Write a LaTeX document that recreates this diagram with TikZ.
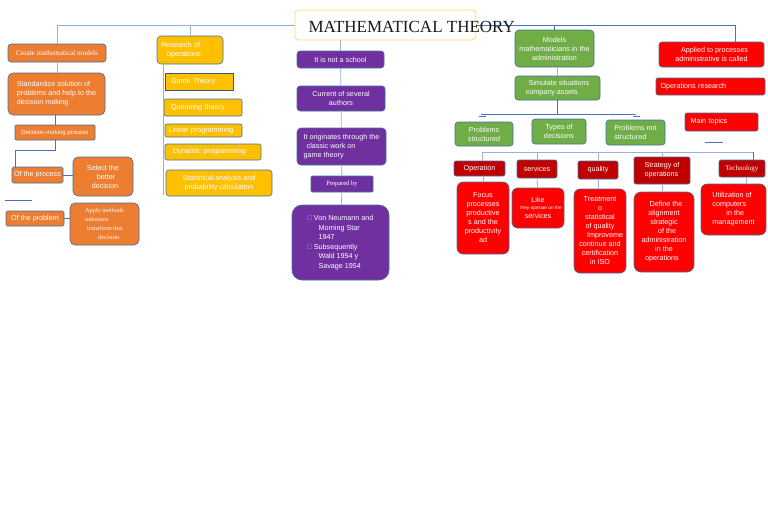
\documentclass[tikz,border=0pt]{standalone}
\usepackage{fontspec}
\setmainfont{Liberation Serif}
\newfontfamily\boxfont{Liberation Sans}
\definecolor{myorange}{RGB}{237,125,49}
\definecolor{myyellow}{RGB}{255,192,0}
\definecolor{mypurple}{RGB}{112,48,160}
\definecolor{mygreen}{RGB}{112,173,71}
\definecolor{myred}{RGB}{255,0,0}
\definecolor{mydarkred}{RGB}{192,0,0}
\definecolor{myborder}{RGB}{65,113,156}
\definecolor{mygold}{RGB}{255,217,102}
\definecolor{mylink}{RGB}{150,178,224}
\definecolor{mylinkdark}{RGB}{68,114,196}
\tikzset{
  card/.style={rectangle, draw=myborder, line width=0.6pt, text=white,
    align=center, inner sep=1pt, rounded corners=3pt,
    font=\boxfont\fontsize{7.2}{9}\selectfont},
  boxsize/.style 2 args={minimum width=#1, minimum height=#2},
  orangecard/.style={card, fill=myorange},
  yellowcard/.style={card, fill=myyellow},
  purplecard/.style={card, fill=mypurple},
  greencard/.style={card, fill=mygreen},
  redcard/.style={card, fill=myred},
  darkcard/.style={card, fill=mydarkred},
  link/.style={draw=mylink, line width=0.8pt},
  darklink/.style={draw=mylinkdark, line width=0.8pt}
}
\begin{document}
\begin{tikzpicture}[x=1pt, y=-1pt]
  \useasboundingbox[fill=white] (0,0) rectangle (768,525);
  % title
  \node[draw=mygold, line width=0.8pt, fill=white, rounded corners=4pt, boxsize={181pt}{30pt}] (title) at (385.5,25) {};
  % left column
  \node[orangecard, boxsize={98pt}{18pt}, font=\fontsize{7.2}{8}\selectfont] (models) at (57,53) {Create mathematical models};
  \node[orangecard, boxsize={97pt}{42pt}, rounded corners=5pt, align=left] (standard) at (56.5,94) {Standardize solution of\\problems and help to the\\decision making};
  \node[orangecard, boxsize={80pt}{15pt}, rounded corners=1pt, font=\boxfont\fontsize{6}{7}\selectfont] (decision) at (55,132.5) {Decision-making process};
  \node[orangecard, boxsize={51pt}{16pt}, rounded corners=1.5pt] (process) at (37.5,175) {Of the process};
  \node[orangecard, boxsize={60pt}{39pt}, rounded corners=5pt] (select) at (103,176.5) {Select the\\\hspace{6pt}better\\\hspace{4pt}decision};
  \node[orangecard, boxsize={58pt}{15pt}, rounded corners=1.5pt] (problem) at (35,218.5) {Of the problem};
  \node[orangecard, boxsize={69pt}{42pt}, rounded corners=5pt, align=left, font=\fontsize{6.3}{9}\selectfont] (apply) at (104.5,224) {Apply methods\\unknown\\\hspace{2pt}transform that\\\hspace{13pt}decision};
  % research column
  \node[yellowcard, boxsize={66pt}{28pt}, rounded corners=4pt, text width=58pt, align=left] (research) at (190,50) {Research of\\\hspace{6pt}operations};
  \node[yellowcard, boxsize={68pt}{17pt}, rounded corners=0pt, draw=myborder!80!black, text width=56pt, align=left] (game) at (199,81.5) {Game Theory};
  \node[yellowcard, boxsize={78pt}{17pt}, rounded corners=2pt, text width=64pt, align=left] (queue) at (203,107.5) {Queueing theory};
  \node[yellowcard, boxsize={77pt}{13pt}, rounded corners=2pt, text width=70pt, align=left] (linear) at (203.5,130.5) {Linear programming};
  \node[yellowcard, boxsize={96pt}{16pt}, rounded corners=2pt, text width=80pt, align=left] (dynamic) at (213,152) {Dynamic programming};
  \node[yellowcard, boxsize={106pt}{26pt}, rounded corners=3pt] (statistic) at (219,183) {Statistical analysis and\\probability calculation};
  % middle column
  \node[purplecard, boxsize={87pt}{17pt}] (school) at (340.5,59.5) {It is not a school};
  \node[purplecard, boxsize={88pt}{25pt}] (authors) at (341,98.5) {Current of several\\authors};
  \node[purplecard, boxsize={89pt}{37pt}, rounded corners=4pt, align=left] (origin) at (341.5,146.5) {It originates through the\\\hspace{3pt}classic work on\\game theory};
  \node[purplecard, boxsize={62pt}{16pt}, rounded corners=1pt, font=\fontsize{6.5}{7}\selectfont] (prepared) at (342,184) {Prepared by};
  \node[purplecard, boxsize={97pt}{75pt}, rounded corners=10pt, align=left, font=\boxfont\fontsize{7.2}{9.5}\selectfont] (names) at (340.5,242.5)
    {\textcolor{white!55!mypurple}{□} Von Neumann and\\\hspace{11pt}Morning Star\\\hspace{11pt}1947\\\textcolor{white!55!mypurple}{□} Subsequently\\\hspace{11pt}Wald 1954 y\\\hspace{11pt}Savage 1954};
  % green group
  \node[greencard, boxsize={79pt}{37pt}, rounded corners=4pt] (admin) at (554.5,48.5) {Models\\mathematicians in the\\administration};
  \node[greencard, boxsize={85pt}{24pt}, rounded corners=3pt, align=left] (simulate) at (557.5,88) {\hspace{3pt}Simulate situations\\company assets};
  \node[greencard, boxsize={58pt}{24pt}, rounded corners=3pt] (structured) at (484,134) {Problems\\structured};
  \node[greencard, boxsize={54pt}{25pt}, rounded corners=3pt] (types) at (559,131.5) {Types of\\decisions};
  \node[greencard, boxsize={59pt}{25pt}, rounded corners=3pt, align=left] (unstructured) at (635.5,132.5) {Problems not\\structured};
  % red group
  \node[redcard, boxsize={105pt}{25pt}, rounded corners=3pt] (applied) at (711.5,54.5) {\hspace{6pt}Applied to processes\\administrative is called};
  \node[redcard, boxsize={109pt}{17pt}, rounded corners=2pt, text width=100pt, align=left] (opres) at (710.5,86.5) {Operations research};
  \node[redcard, boxsize={73pt}{18pt}, rounded corners=2pt, text width=62pt, align=left] (topics) at (721.5,122) {Main topics};
  % topics
  \node[darkcard, boxsize={51pt}{15pt}, rounded corners=2pt] (operation) at (479.5,168.5) {Operation};
  \node[darkcard, boxsize={40pt}{18pt}, rounded corners=2pt] (services) at (537,169) {services};
  \node[darkcard, boxsize={40pt}{18pt}, rounded corners=2pt] (quality) at (598,170) {quality};
  \node[darkcard, boxsize={56pt}{27pt}, rounded corners=2pt, align=left] (strategy) at (662,170.5) {Strategy of\\operations};
  \node[darkcard, boxsize={46pt}{17pt}, rounded corners=2pt, font=\fontsize{7}{8}\selectfont] (technology) at (742,168.5) {Technology};
  \node[redcard, boxsize={52pt}{72pt}, rounded corners=6pt] (focus) at (483,218) {Focus\\processes\\productive\\s and the\\productivity\\ad};
  \node[redcard, boxsize={52pt}{40pt}, rounded corners=5pt] (like) at (538,208) {Like\\[-2pt]\hspace{6pt}{\fontsize{4.8}{5.5}\selectfont they operate on the}\\services};
  \node[redcard, boxsize={52pt}{84pt}, rounded corners=6pt] (treatment) at (600,231) {Treatment\\o\\statistical\\of quality\\\hspace{10pt}Improveme\\continue and\\certification\\in ISO};
  \node[redcard, boxsize={60pt}{80pt}, rounded corners=7pt] (define) at (664,232) {\hspace{4pt}Define the\\alignment\\strategic\hspace{8pt}\\\hspace{6pt}of the\\administration\\in the\\\hspace{-4pt}operations};
  \node[redcard, boxsize={65pt}{51pt}, rounded corners=6pt, align=left] (computers) at (733.5,209.5) {Utilization of\\computers\\\hspace{14pt}in the\\management};
  % connectors
  \draw[link] (title.west) -| (models.north);
  \draw[link] (title.west -| research.north) -- (research.north);
  \draw[darklink] (title.east) -| ([xshift=24pt]applied.north);
  \draw[darklink] (admin.north |- title.east) -- (admin.north);
  \draw[link] (school.north |- title.south) -- (school.north);
  \draw[link] (models.south) -- (models.south |- standard.north);
  \draw[darklink] (decision.north |- standard.south) -- (decision.north);
  \draw[darklink] (decision.south) -- ++(0,10) -| ([xshift=-22pt]process.north);
  \draw[darklink] (process.east) -- (process.east -| select.west);
  \draw[darklink] (problem.east) -- (problem.east -| apply.west);
  \coordinate (orphan) at (5,200);
  \draw[darklink] (orphan) -- ++(27,0);
  \coordinate (researchend) at (163,195);
  \draw[link] (researchend |- research.south) -- (researchend);
  \draw[link] (school) -- (authors);
  \draw[link] (authors) -- (origin);
  \draw[link] (origin) -- (prepared);
  \draw[link] (prepared) -- (names);
  \draw[link] (admin.south -| simulate.north) -- (simulate.north);
  \coordinate (greenleft) at (481,114);
  \coordinate (greenright) at (636,114);
  \draw[darklink] (simulate.south) -- (simulate.south |- greenleft);
  \draw[darklink] (greenleft) -- (greenright);
  \draw[darklink] (greenleft) ++(-2,2) -- ++(7,0);
  \draw[darklink] (greenright) ++(-3,2) -- ++(7,0);
  \coordinate (topicsmark) at (705,142);
  \draw[darklink] (topicsmark) -- ++(18,0);
  \coordinate (redleft) at (482,152);
  \coordinate (redright) at (753,152);
  \draw[link] (redleft) -- (redright);
  \draw[link] (redleft) -- (redleft |- operation.north);
  \draw[link] (services.north |- redleft) -- (services.north);
  \draw[link] (quality.north |- redleft) -- (quality.north);
  \draw[link] (strategy.north |- redleft) -- (strategy.north);
  \draw[darklink] (redright) -- (redright |- technology.north);
  \draw[link] (focus.north) -- (focus.north |- operation.south);
  \draw[link] (services) -- (like);
  \draw[link] (quality) -- (treatment);
  \draw[link] (strategy) -- (define);
  \draw[link] ([xshift=4pt]technology.south) -- ([xshift=4pt]technology.south |- computers.north);
  \node[anchor=west, text=black!90, font=\fontsize{17}{20}\selectfont] (titletext) at (305,27) {MATHEMATICAL THEORY};
\end{tikzpicture}
\end{document}
